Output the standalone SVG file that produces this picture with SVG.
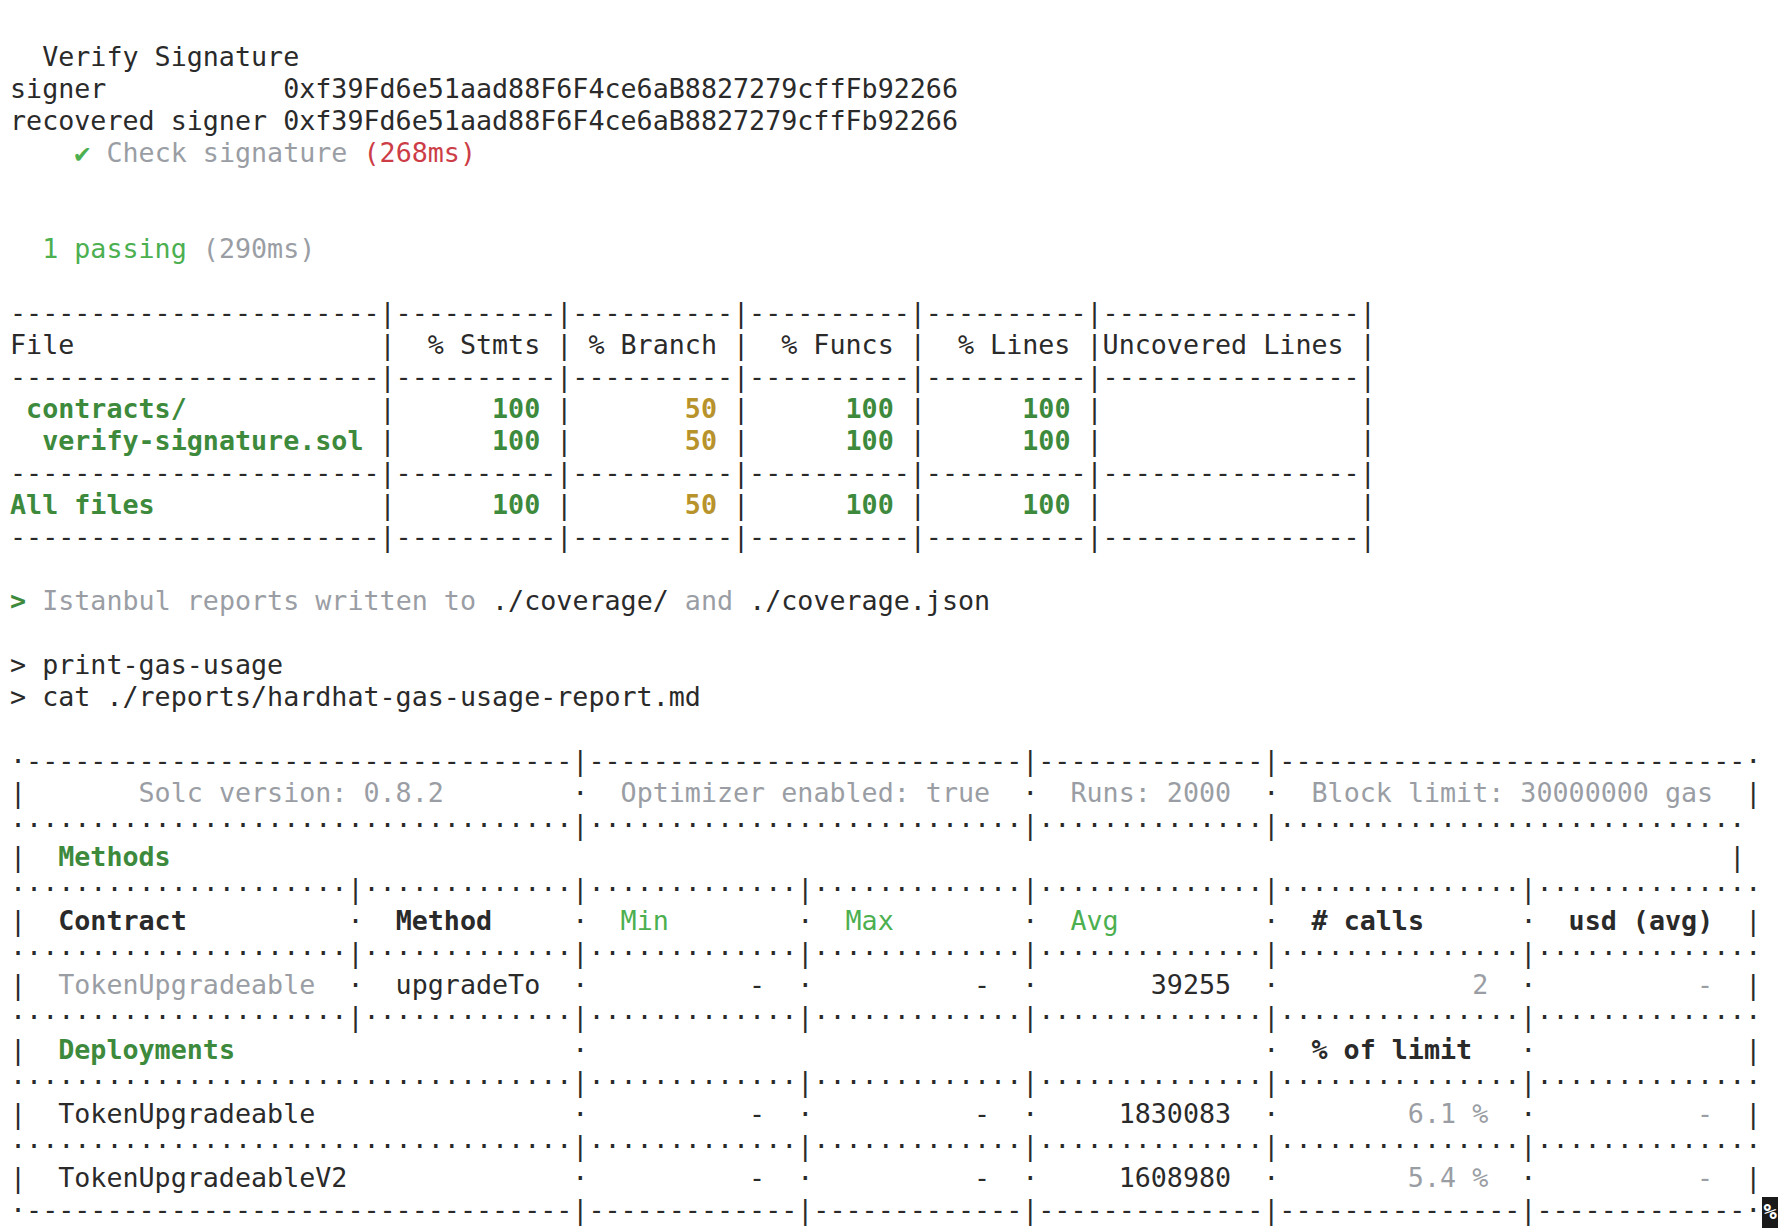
<svg xmlns="http://www.w3.org/2000/svg" width="1784" height="1228" viewBox="0 0 1784 1228">
<style>
text{font-family:"DejaVu Sans Mono","Liberation Mono",monospace;font-size:26.7px;fill:#2a2a2a;white-space:pre}
.g{fill:#9a9ea4}.gr{fill:#3d8a3d;font-weight:bold}.lg{fill:#4caf50}.y{fill:#b8922a;font-weight:bold}.r{fill:#cc3d47}.b{font-weight:bold}
</style>
<rect width="1784" height="1228" fill="#ffffff"/>
<g id="test-output">
<text x="10" y="66" xml:space="preserve">  Verify Signature</text>
<text x="10" y="98" xml:space="preserve">signer           0xf39Fd6e51aad88F6F4ce6aB8827279cffFb92266</text>
<text x="10" y="130" xml:space="preserve">recovered signer 0xf39Fd6e51aad88F6F4ce6aB8827279cffFb92266</text>
<text x="10" y="162" xml:space="preserve">    <tspan class="lg">✔</tspan><tspan class="g"> Check signature</tspan> <tspan class="r">(268ms)</tspan></text>
<text x="10" y="258" xml:space="preserve">  <tspan class="lg">1 passing</tspan> <tspan class="g">(290ms)</tspan></text>
</g>
<g id="coverage-table">
<text x="10" y="322" xml:space="preserve">-----------------------|----------|----------|----------|----------|----------------|</text>
<text x="10" y="354" xml:space="preserve">File                   |  % Stmts | % Branch |  % Funcs |  % Lines |Uncovered Lines |</text>
<text x="10" y="386" xml:space="preserve">-----------------------|----------|----------|----------|----------|----------------|</text>
<text x="10" y="418" xml:space="preserve"> <tspan class="gr">contracts/</tspan>            |      <tspan class="gr">100</tspan> |       <tspan class="y">50</tspan> |      <tspan class="gr">100</tspan> |      <tspan class="gr">100</tspan> |                |</text>
<text x="10" y="450" xml:space="preserve">  <tspan class="gr">verify-signature.sol</tspan> |      <tspan class="gr">100</tspan> |       <tspan class="y">50</tspan> |      <tspan class="gr">100</tspan> |      <tspan class="gr">100</tspan> |                |</text>
<text x="10" y="482" xml:space="preserve">-----------------------|----------|----------|----------|----------|----------------|</text>
<text x="10" y="514" xml:space="preserve"><tspan class="gr">All files</tspan>              |      <tspan class="gr">100</tspan> |       <tspan class="y">50</tspan> |      <tspan class="gr">100</tspan> |      <tspan class="gr">100</tspan> |                |</text>
<text x="10" y="546" xml:space="preserve">-----------------------|----------|----------|----------|----------|----------------|</text>
</g>
<g id="commands">
<text x="10" y="610" xml:space="preserve"><tspan class="gr">&gt;</tspan> <tspan class="g">Istanbul reports written to</tspan> ./coverage/ <tspan class="g">and</tspan> ./coverage.json</text>
<text x="10" y="674" xml:space="preserve">&gt; print-gas-usage</text>
<text x="10" y="706" xml:space="preserve">&gt; cat ./reports/hardhat-gas-usage-report.md</text>
</g>
<g id="gas-table">
<text x="10" y="770" xml:space="preserve">·----------------------------------|---------------------------|--------------|-----------------------------·</text>
<text x="10" y="802" xml:space="preserve">|       <tspan class="g">Solc version: 0.8.2</tspan>        ·  <tspan class="g">Optimizer enabled: true</tspan>  ·  <tspan class="g">Runs: 2000</tspan>  ·  <tspan class="g">Block limit: 30000000 gas</tspan>  |</text>
<text x="10" y="834" xml:space="preserve">···································|···························|··············|·····························</text>
<text x="10" y="866" xml:space="preserve">|  <tspan class="gr">Methods</tspan>                                                                                                 |</text>
<text x="10" y="898" xml:space="preserve">·····················|·············|·············|·············|··············|···············|··············</text>
<text x="10" y="930" xml:space="preserve">|  <tspan class="b">Contract</tspan>          ·  <tspan class="b">Method</tspan>     ·  <tspan class="lg">Min</tspan>        ·  <tspan class="lg">Max</tspan>        ·  <tspan class="lg">Avg</tspan>         ·  <tspan class="b"># calls</tspan>      ·  <tspan class="b">usd (avg)</tspan>  |</text>
<text x="10" y="962" xml:space="preserve">·····················|·············|·············|·············|··············|···············|··············</text>
<text x="10" y="994" xml:space="preserve">|  <tspan class="g">TokenUpgradeable</tspan>  ·  upgradeTo  ·          -  ·          -  ·       39255  ·            <tspan class="g">2</tspan>  ·          <tspan class="g">-</tspan>  |</text>
<text x="10" y="1026" xml:space="preserve">·····················|·············|·············|·············|··············|···············|··············</text>
<text x="10" y="1059" xml:space="preserve">|  <tspan class="gr">Deployments</tspan>                     ·                                          ·  <tspan class="b">% of limit</tspan>   ·             |</text>
<text x="10" y="1091" xml:space="preserve">···································|·············|·············|··············|···············|··············</text>
<text x="10" y="1123" xml:space="preserve">|  TokenUpgradeable                ·          -  ·          -  ·     1830083  ·        <tspan class="g">6.1 %</tspan>  ·          <tspan class="g">-</tspan>  |</text>
<text x="10" y="1155" xml:space="preserve">···································|·············|·············|··············|···············|··············</text>
<text x="10" y="1187" xml:space="preserve">|  TokenUpgradeableV2              ·          -  ·          -  ·     1608980  ·        <tspan class="g">5.4 %</tspan>  ·          <tspan class="g">-</tspan>  |</text>
<text x="10" y="1219" xml:space="preserve">·----------------------------------|-------------|-------------|--------------|---------------|-------------·</text>
<rect x="1762" y="1197" width="16" height="31" fill="#1a1a1a"/>
<text x="1770" y="1219" text-anchor="middle" style="fill:#ffffff;font-size:22px;font-weight:bold">%</text>
</g>
</svg>
